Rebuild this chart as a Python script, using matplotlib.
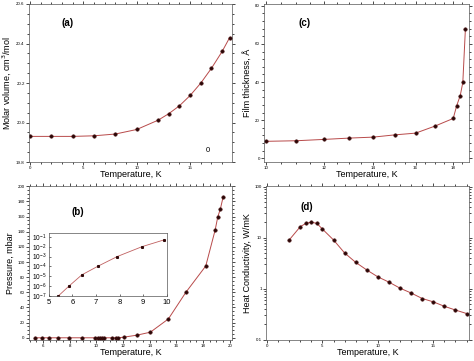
import matplotlib
matplotlib.use("Agg")
import matplotlib.pyplot as plt
import matplotlib.ticker as mticker
import numpy as np

plt.rcParams['font.family'] = ['Liberation Sans', 'DejaVu Sans']

# (a) molar volume
t_vol = [0, 2, 4, 6, 8, 10, 12, 13, 14, 15, 16, 17, 18, 18.7]
vol = [19.93, 19.93, 19.93, 19.933, 19.942, 19.965, 20.012, 20.045, 20.085,
       20.137, 20.2, 20.275, 20.36, 20.43]

# (b) vapour pressure
t_p = [5.4, 5.9, 6.45, 7.1, 7.95, 8.95, 9.9, 10.15, 10.3, 10.4, 10.55, 11.2,
       11.5, 11.6, 12.05, 13.05, 14.05, 15.4, 16.7, 18.2, 18.9, 19.1, 19.3, 19.5]
p = [0, 0, 0, 0, 0, 0, 0, 0, 0, 0, 0, 0, 0, 0, 0.8, 3.5, 7.4, 24.9, 59.8,
     94.8, 142, 159.6, 170.5, 185.8]

# (b) inset, log scale
t_low = [5.4, 5.85, 6.4, 7.1, 7.9, 8.95, 9.9]
p_low = [1e-7, 1e-6, 1.4e-5, 1.1e-4, 1e-3, 1e-2, 5e-2]

# (c) film thickness
t_film = [10, 11, 12, 13, 14, 15, 16, 17, 18, 18.2, 18.4, 18.55, 18.7]
film = [8.9, 9.2, 9.9, 10.6, 11.1, 12.3, 13.2, 16.9, 20.9, 27.7, 32.9, 39.8, 67.8]

# (d) heat conductivity
t_k = [2, 3, 3.5, 4, 4.5, 5, 6, 7, 8, 9, 10, 11, 12, 13, 14, 15, 16, 17, 18]
kappa = [9.0, 16.4, 19.0, 20.1, 19.0, 14.7, 9.0, 5.0, 3.27, 2.32, 1.70, 1.34,
         1.02, 0.82, 0.64, 0.55, 0.45, 0.38, 0.325]

line_kw = dict(color='#b84a4a', lw=0.7, zorder=1)
mark_kw = dict(marker='o', ls='none', ms=2.5, mew=0.4, mfc='#2a0808', mec='#4a1010', zorder=2)
lab_fs = 6.5
tick_fs = 3.2


def style(ax):
    ax.tick_params(which='both', direction='out', top=True, right=True,
                   labelsize=tick_fs, width=0.5, pad=1)
    ax.tick_params(which='major', length=2)
    ax.tick_params(which='minor', length=1.1)
    for s in ax.spines.values():
        s.set_linewidth(0.5)
        s.set_color('#555555')
    ax.set_xlabel('Temperature, K', fontsize=lab_fs, labelpad=0)


fig = plt.figure(figsize=(4.74, 3.61), dpi=100)

# (a)
ax = fig.add_axes([0.061, 0.551, 0.428, 0.438])
ax.plot(t_vol, vol, **line_kw)
ax.plot(t_vol, vol, **mark_kw)
ax.set_xlim(-0.1, 18.9)
ax.set_ylim(19.8, 20.6)
ax.set_xticks([0, 5, 10, 15])
ax.xaxis.set_minor_locator(mticker.MultipleLocator(1))
ax.set_yticks([19.8, 20.0, 20.2, 20.4, 20.6])
ax.yaxis.set_major_formatter(mticker.FormatStrFormatter('%.1f'))
ax.yaxis.set_minor_locator(mticker.MultipleLocator(0.05))
style(ax)
ax.set_ylabel('Molar volume, cm$^3$/mol', fontsize=lab_fs, labelpad=2)
ax.text(0.19, 0.88, '(a)', transform=ax.transAxes, fontsize=7, fontweight='bold',
        ha='center', va='center')
ax.text(16.7, 19.86, '0', fontsize=5.5, ha='center', va='center')

# (c)
ax = fig.add_axes([0.557, 0.551, 0.432, 0.438])
ax.plot(t_film, film, **line_kw)
ax.plot(t_film, film, **mark_kw)
ax.set_xscale('log')
ax.set_xlim(9.95, 18.9)
ax.set_ylim(-2, 81)
ax.set_xticks([10, 12, 14, 16, 18])
ax.xaxis.set_major_formatter(mticker.ScalarFormatter())
ax.xaxis.set_minor_locator(mticker.FixedLocator(np.arange(10, 19, 0.5)))
ax.xaxis.set_minor_formatter(mticker.NullFormatter())
ax.set_yticks([0, 20, 40, 60, 80])
ax.yaxis.set_minor_locator(mticker.MultipleLocator(4))
style(ax)
ax.set_ylabel('Film thickness, \u00c5', fontsize=lab_fs, labelpad=2)
ax.text(0.2, 0.88, '(c)', transform=ax.transAxes, fontsize=7, fontweight='bold',
        ha='center', va='center')

# (b)
ax = fig.add_axes([0.061, 0.058, 0.428, 0.428])
ax.plot(t_p, p, **line_kw)
ax.plot(t_p, p, **mark_kw)
ax.set_xlim(4.95, 20.15)
ax.set_ylim(-3, 201)
ax.set_xticks(range(6, 21, 2))
ax.xaxis.set_minor_locator(mticker.MultipleLocator(0.5))
ax.set_yticks(range(0, 201, 20))
ax.yaxis.set_minor_locator(mticker.MultipleLocator(5))
style(ax)
ax.set_ylabel('Pressure, mbar', fontsize=lab_fs, labelpad=2)
ax.text(0.24, 0.83, '(b)', transform=ax.transAxes, fontsize=7, fontweight='bold',
        ha='center', va='center')

ins = fig.add_axes([0.103, 0.18, 0.249, 0.175])
ins.plot(t_low, p_low, color='#c06060', lw=0.6)
ins.plot(t_low, p_low, marker='s', ls='none', ms=1.2, color='#300808')
ins.set_yscale('log')
ins.set_xlim(5, 10)
ins.set_ylim(1e-7, 2.5e-1)
ins.set_xticks([5, 6, 7, 8, 9, 10])
ins.set_yticks([1e-7, 1e-6, 1e-5, 1e-4, 1e-3, 1e-2, 1e-1])
ins.yaxis.set_minor_locator(mticker.NullLocator())
ins.tick_params(direction='in', length=1.5, width=0.4, labelsize=5.5, pad=2)
ins.tick_params(axis='y', labelsize=4.8, pad=1.5)
for s in ins.spines.values():
    s.set_linewidth(0.5)
    s.set_color('#555555')

# (d)
ax = fig.add_axes([0.561, 0.058, 0.428, 0.428])
ax.plot(t_k, kappa, **line_kw)
ax.plot(t_k, kappa, **mark_kw)
ax.set_yscale('log')
ax.set_xlim(-0.1, 18.2)
ax.set_ylim(0.098, 105)
ax.set_xticks([0, 5, 10, 15])
ax.xaxis.set_minor_locator(mticker.MultipleLocator(1))
ax.set_yticks([0.1, 1, 10, 100])
ax.yaxis.set_major_formatter(mticker.FuncFormatter(lambda v, _: '%g' % v))
ax.yaxis.set_minor_formatter(mticker.NullFormatter())
style(ax)
ax.set_ylabel('Heat Conductivity, W/mK', fontsize=lab_fs, labelpad=2)
ax.text(0.2, 0.86, '(d)', transform=ax.transAxes, fontsize=7, fontweight='bold',
        ha='center', va='center')

fig.savefig('out.png', dpi=100)
